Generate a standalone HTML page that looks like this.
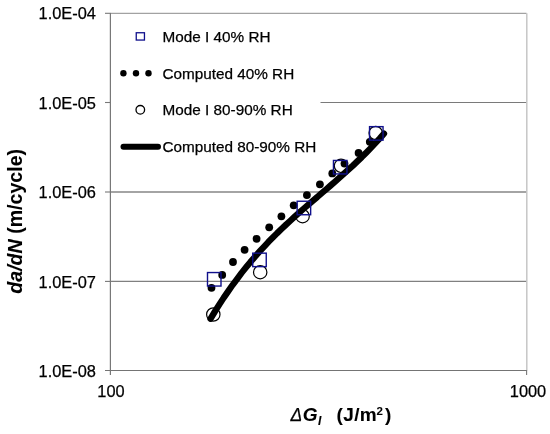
<!DOCTYPE html>
<html><head><meta charset="utf-8"><style>
html,body{margin:0;padding:0;background:#fff;}
svg{display:block;font-family:"Liberation Sans",Arial,sans-serif;}
text{fill:#000;stroke:#000;stroke-width:0.25px;}
text[font-weight="bold"]{stroke-width:0.08px;}
</style></head><body>
<svg width="550" height="434" viewBox="0 0 550 434">
<line x1="110" y1="102.5" x2="526.5" y2="102.5" stroke="#7a7a7a" stroke-width="1"/>
<line x1="110" y1="192" x2="526.5" y2="192" stroke="#a4a4a4" stroke-width="2"/>
<line x1="110" y1="281.4" x2="526.5" y2="281.4" stroke="#808080" stroke-width="1.1"/>
<line x1="110" y1="13.3" x2="526.5" y2="13.3" stroke="#a2a2a2" stroke-width="1.3"/>
<line x1="526.8" y1="13.3" x2="526.8" y2="370.5" stroke="#c2c2c2" stroke-width="1.4"/>
<rect x="111" y="16" width="209.5" height="152" fill="#fff"/>
<line x1="110.4" y1="13" x2="110.4" y2="375" stroke="#787878" stroke-width="1.2"/>
<line x1="105" y1="370.5" x2="527" y2="370.5" stroke="#747474" stroke-width="1.1"/>
<line x1="105" y1="13.3" x2="110.4" y2="13.3" stroke="#787878" stroke-width="1.1"/>
<line x1="105" y1="102.5" x2="110.4" y2="102.5" stroke="#787878" stroke-width="1.1"/>
<line x1="105" y1="192" x2="110.4" y2="192" stroke="#787878" stroke-width="1.1"/>
<line x1="105" y1="281.4" x2="110.4" y2="281.4" stroke="#787878" stroke-width="1.1"/>
<line x1="526.6" y1="370" x2="526.6" y2="375" stroke="#787878" stroke-width="1.1"/>
<circle cx="213.3" cy="314.5" r="6.7" fill="#fff" stroke="#000" stroke-width="1.2"/>
<circle cx="260.2" cy="272.2" r="6.7" fill="#fff" stroke="#000" stroke-width="1.2"/>
<circle cx="302.6" cy="216.2" r="6.7" fill="#fff" stroke="#000" stroke-width="1.2"/>
<circle cx="341.0" cy="165.8" r="6.7" fill="#fff" stroke="#000" stroke-width="1.2"/>
<circle cx="375.7" cy="133" r="6.7" fill="#fff" stroke="#000" stroke-width="1.2"/>
<polyline points="210.5,318.8 214.9,311.5 219.4,304.4 223.8,297.6 228.3,291.1 232.7,284.8 237.2,278.8 241.6,272.9 246.1,267.3 250.5,261.9 255.0,256.7 259.4,251.7 263.9,246.8 268.3,242.1 272.8,237.6 277.2,233.1 281.7,228.8 286.1,224.6 290.6,220.5 295.0,216.4 299.5,212.4 303.9,208.5 308.4,204.6 312.8,200.8 317.3,197.0 321.7,193.1 326.2,189.3 330.6,185.5 335.1,181.6 339.5,177.7 344.0,173.7 348.4,169.7 352.9,165.6 357.3,161.4 361.8,157.1 366.2,152.7 370.7,148.1 375.1,143.4 379.6,138.6 384.0,133.6" fill="none" stroke="#000" stroke-width="6.3" stroke-linecap="round" stroke-linejoin="round"/>
<circle cx="211.5" cy="287.8" r="3.9" fill="#000"/>
<circle cx="222.2" cy="274.9" r="3.9" fill="#000"/>
<circle cx="233" cy="262" r="3.9" fill="#000"/>
<circle cx="244.6" cy="249.8" r="3.9" fill="#000"/>
<circle cx="256.6" cy="238.8" r="3.9" fill="#000"/>
<circle cx="269.2" cy="227.3" r="3.9" fill="#000"/>
<circle cx="281.4" cy="216.3" r="3.9" fill="#000"/>
<circle cx="293.7" cy="205.3" r="3.9" fill="#000"/>
<circle cx="306.9" cy="195.1" r="3.9" fill="#000"/>
<circle cx="319.9" cy="184.3" r="3.9" fill="#000"/>
<circle cx="332.3" cy="173.4" r="3.9" fill="#000"/>
<circle cx="344.5" cy="163.6" r="3.9" fill="#000"/>
<circle cx="358.6" cy="152.9" r="3.9" fill="#000"/>
<circle cx="369.8" cy="141.8" r="3.9" fill="#000"/>
<rect x="207.50" y="272.55" width="13.5" height="13.5" fill="none" stroke="#10108c" stroke-width="1.4"/>
<rect x="252.75" y="253.15" width="13.5" height="13.5" fill="none" stroke="#10108c" stroke-width="1.4"/>
<rect x="297.15" y="201.25" width="13.5" height="13.5" fill="none" stroke="#10108c" stroke-width="1.4"/>
<rect x="333.45" y="160.45" width="13.5" height="13.5" fill="none" stroke="#10108c" stroke-width="1.4"/>
<rect x="369.55" y="126.65" width="13.5" height="13.5" fill="none" stroke="#10108c" stroke-width="1.4"/>
<rect x="136.25" y="32.75" width="8.2" height="7.3" fill="none" stroke="#10108c" stroke-width="1.3"/>
<circle cx="123.4" cy="73.3" r="3.2" fill="#000"/>
<circle cx="136" cy="73.3" r="3.2" fill="#000"/>
<circle cx="148.5" cy="73.3" r="3.2" fill="#000"/>
<circle cx="140.3" cy="109.8" r="4.3" fill="#fff" stroke="#000" stroke-width="1.3"/>
<line x1="123.5" y1="146.7" x2="158" y2="146.7" stroke="#000" stroke-width="6" stroke-linecap="round"/>
<text x="162.6" y="41.9" text-anchor="start" font-size="15.3" >Mode I 40% RH</text>
<text x="162.4" y="78.7" text-anchor="start" font-size="15.3" >Computed 40% RH</text>
<text x="162.6" y="115.2" text-anchor="start" font-size="15.3" >Mode I 80-90% RH</text>
<text x="162.4" y="152.0" text-anchor="start" font-size="15.3" >Computed 80-90% RH</text>
<text x="96" y="19.4" text-anchor="end" font-size="16.4" >1.0E-04</text>
<text x="96" y="108.8" text-anchor="end" font-size="16.4" >1.0E-05</text>
<text x="96" y="198.3" text-anchor="end" font-size="16.4" >1.0E-06</text>
<text x="96" y="287.8" text-anchor="end" font-size="16.4" >1.0E-07</text>
<text x="96" y="377.2" text-anchor="end" font-size="16.4" >1.0E-08</text>
<text x="111" y="396.5" text-anchor="middle" font-size="16.4" >100</text>
<text x="528" y="396.5" text-anchor="middle" font-size="16.4" >1000</text>
<text transform="translate(21.6,221.3) rotate(-90)" text-anchor="middle" font-size="19.6" font-weight="bold"><tspan font-style="italic">da/dN</tspan> (m/cycle)</text>
<text x="290.4" y="421" font-size="17.5" font-style="italic">&#916;</text>
<text x="302.8" y="421" font-size="19" font-weight="bold" font-style="italic">G</text>
<text x="318" y="425" font-size="12" font-weight="bold" font-style="italic">I</text>
<text x="336.5" y="421" font-size="19" font-weight="bold" letter-spacing="0.4">(J/m</text>
<text x="376.4" y="415" font-size="11.5" font-weight="bold">2</text>
<text x="385" y="421" font-size="19" font-weight="bold">)</text>
</svg>
</body></html>
